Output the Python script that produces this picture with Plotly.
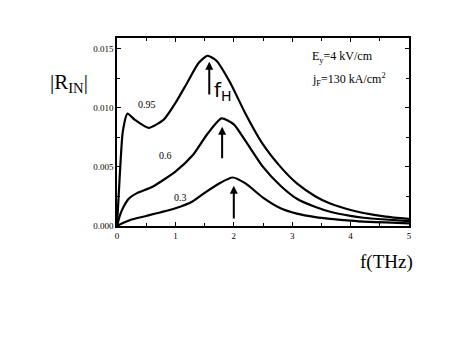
import plotly.graph_objects as go

# |R_IN| versus frequency for three values of the parameter
f_095 = [0, 0.05, 0.1, 0.18, 0.3, 0.54, 0.8, 1.0, 1.2, 1.4, 1.55, 1.7, 1.93, 2.2, 2.5, 2.8, 3.08, 3.4, 3.65, 4.0, 4.22, 4.6, 5.0]
r_095 = [0, 4.5, 8.0, 9.5, 9.0, 8.3, 9.0, 10.4, 12.1, 13.8, 14.4, 14.0, 12.2, 9.5, 6.9, 5.0, 3.6, 2.5, 1.9, 1.35, 1.1, 0.8, 0.6]

f_06 = [0, 0.05, 0.1, 0.2, 0.35, 0.6, 1.0, 1.3, 1.55, 1.79, 2.0, 2.2, 2.5, 2.8, 3.08, 3.4, 3.65, 4.0, 4.22, 4.6, 5.0]
r_06 = [0, 0.9, 1.5, 2.3, 2.8, 3.3, 4.6, 6.0, 7.8, 9.1, 8.6, 7.2, 5.0, 3.4, 2.3, 1.6, 1.2, 0.85, 0.7, 0.55, 0.42]

f_03 = [0, 0.1, 0.25, 0.5, 1.0, 1.3, 1.5, 1.75, 1.98, 2.2, 2.5, 2.8, 3.08, 3.4, 3.65, 4.0, 4.22, 4.6, 5.0]
r_03 = [0, 0.25, 0.55, 0.85, 1.5, 2.1, 2.8, 3.6, 4.1, 3.6, 2.4, 1.5, 1.05, 0.75, 0.6, 0.45, 0.37, 0.3, 0.23]

curve_labels = ["0.95", "0.6", "0.3"]
label_x = [0.51, 0.83, 1.09]
label_y = [10.3e-3, 6.0e-3, 2.4e-3]

# arrows marking f_H: (x, tail y, head y)
arrow_x = [1.58, 1.8, 2.0]
arrow_tail = [11.0e-3, 5.6e-3, 0.5e-3]
arrow_head = [13.9e-3, 8.4e-3, 3.4e-3]

y_ticks = [0, 0.005, 0.010, 0.015]
y_tick_text = ["0.000", "0.005", "0.010", "0.015"]
x_ticks = [0, 1, 2, 3, 4, 5]

serif = "Liberation Serif"

fig = go.Figure()
for xs, ys in [(f_095, r_095), (f_06, r_06), (f_03, r_03)]:
    fig.add_trace(go.Scatter(
        x=xs, y=[v * 1e-3 for v in ys], mode="lines",
        line=dict(color="black", width=2.2, shape="spline", smoothing=0.6),
        showlegend=False, hoverinfo="skip"))

for t, lx, ly in zip(curve_labels, label_x, label_y):
    fig.add_annotation(x=lx, y=ly, text=t, showarrow=False,
                       font=dict(family=serif, size=10, color="black"))

for ax_, tail, head in zip(arrow_x, arrow_tail, arrow_head):
    fig.add_annotation(x=ax_, y=head, ax=ax_, ay=tail, xref="x", yref="y",
                       axref="x", ayref="y", text="", showarrow=True,
                       arrowhead=2, arrowsize=0.8, arrowwidth=2, arrowcolor="black")

fig.add_annotation(x=1.82, y=11.4e-3, text="f<sub>H</sub>", showarrow=False,
                   font=dict(family="DejaVu Sans", size=20, color="black"))

fig.add_annotation(x=0.66, y=0.9, xref="paper", yref="paper", xanchor="left",
                   yanchor="middle", text="E<sub>y</sub>=4 kV/cm", showarrow=False,
                   font=dict(family=serif, size=12, color="black"))
fig.add_annotation(x=0.66, y=0.78, xref="paper", yref="paper", xanchor="left",
                   yanchor="middle", text="j<sub>F</sub>=130 kA/cm<sup>2</sup>",
                   showarrow=False, font=dict(family=serif, size=12, color="black"))

fig.add_annotation(x=-0.236, y=0.76, xref="paper", yref="paper", xanchor="left",
                   yanchor="middle", text="|R<sub>IN</sub>|", showarrow=False,
                   font=dict(family=serif, size=21, color="black"))
fig.add_annotation(x=1.02, y=-0.19, xref="paper", yref="paper", xanchor="right",
                   yanchor="middle", text="f(THz)", showarrow=False,
                   font=dict(family=serif, size=19, color="black"))

axis_common = dict(showline=True, linecolor="black", linewidth=1.5, mirror="ticks",
                   ticks="inside", ticklen=4, tickcolor="black", showgrid=False,
                   zeroline=False, tickfont=dict(family=serif, size=9, color="black"))

fig.update_xaxes(range=[0, 5], tickvals=x_ticks,
                 minor=dict(ticks="inside", ticklen=3, dtick=0.5, tickcolor="black"),
                 **axis_common)
fig.update_yaxes(range=[0, 0.0159], tickvals=y_ticks, ticktext=y_tick_text,
                 minor=dict(ticks="inside", ticklen=3, dtick=0.0025, tickcolor="black"),
                 **axis_common)

fig.update_layout(width=474, height=345, margin=dict(l=117, r=65, t=38, b=119),
                  paper_bgcolor="white", plot_bgcolor="white")

fig.write_html("out.html")
